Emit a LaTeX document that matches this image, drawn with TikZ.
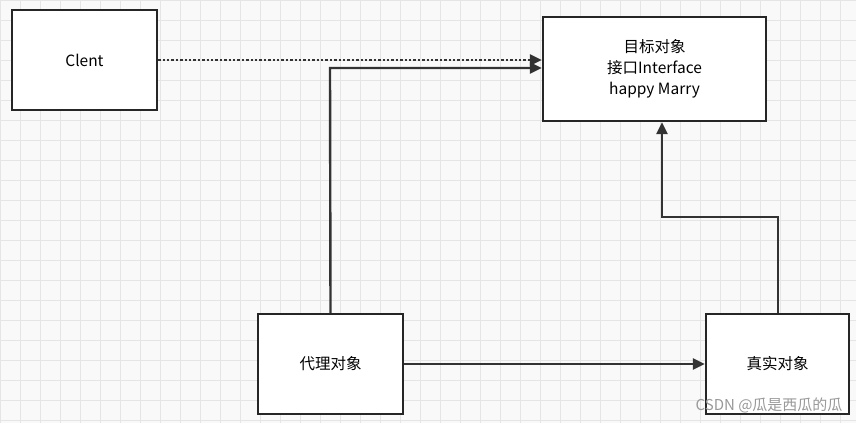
\documentclass[tikz,border=0pt]{standalone}
\usepackage{fontspec}
\setmainfont{Noto Sans CJK SC}
\usetikzlibrary{arrows.meta}
\tikzset{
  box/.style={draw=black!85,line width=2.2pt,fill=white,font=\fontsize{15.5}{21}\selectfont,align=center,inner sep=0pt},
  conn/.style={draw=black!80,line width=2.4pt,-{Triangle[length=12pt,width=11pt]}},
}
\begin{document}
\begin{tikzpicture}[x=1pt,y=-1pt]
\fill[gray!5] (0,0) rectangle (856,423);
\useasboundingbox (0,0) rectangle (856,423);
\draw[gray!20,line width=0.5pt,step=20pt] (0,0) grid (856,423);
\node[box,minimum width=145pt,minimum height=100pt] (c) at (84.5,60) {Clent};
\node[box,minimum width=223pt,minimum height=104pt] (t) at (654.5,69) {目标对象\\接口Interface\\happy Marry};
\node[box,minimum width=145pt,minimum height=100pt] (p) at (330.5,364) {代理对象};
\node[box,minimum width=143pt,minimum height=100pt] (r) at (777.5,364) {真实对象};
\draw[conn,dotted] (c.east) -- (c.east -| t.west);
\coordinate (k) at (330,68);
\draw[conn] (p.north) -- (k) -- (k -| t.west);
\coordinate (j1) at (778,217);
\coordinate (j2) at (662,217);
\draw[conn] (r.north -| j1) -- (j1) -- (j2) -- (j2 |- t.south);
\draw[conn] (p.east) -- (r.west);
\node[font=\fontsize{15}{18}\selectfont,text=gray!80,anchor=east] (w) at (846,405) {CSDN @瓜是西瓜的瓜};
\end{tikzpicture}
\end{document}
